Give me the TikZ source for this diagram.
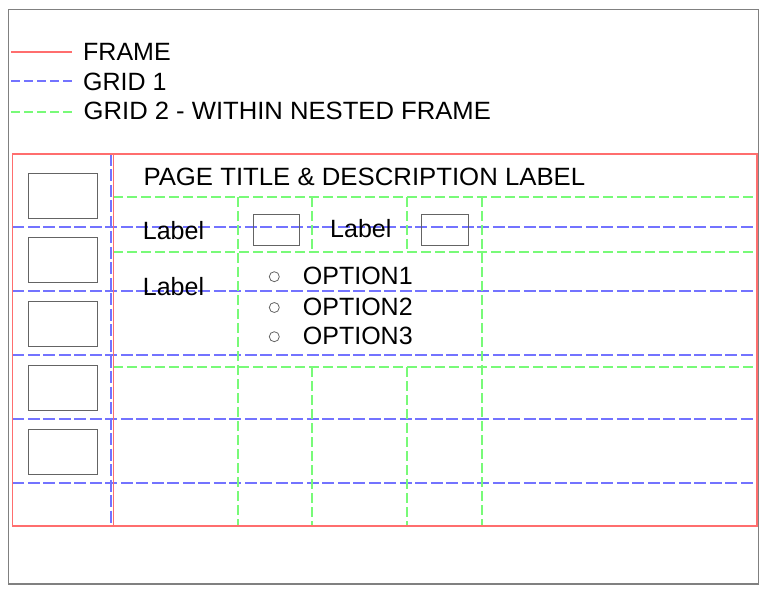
\documentclass[tikz,border=0pt]{standalone}
\usepackage{fontspec}
\setmainfont{Liberation Sans}
\definecolor{framered}{RGB}{255,110,110}
\definecolor{gridblue}{RGB}{115,115,255}
\definecolor{gridgreen}{RGB}{120,250,120}
\definecolor{boxgray}{RGB}{100,100,100}
\definecolor{pagegray}{RGB}{128,128,128}
\tikzset{
  frameline/.style={draw=framered, line width=1.4pt},
  gridone/.style={draw=gridblue, line width=1.5pt, dash pattern=on 12pt off 3.5pt},
  gridtwo/.style={draw=gridgreen, line width=1.6pt, dash pattern=on 10pt off 4pt},
  widget/.style={draw=boxgray, line width=1pt},
  txt/.style={anchor=base west, inner sep=0pt, font=\fontsize{25}{30}\selectfont, text=black},
  radio/.style={draw=boxgray, line width=0.8pt}
}
\begin{document}
\begin{tikzpicture}[x=1pt,y=-1pt]
\useasboundingbox (0,0) rectangle (768,593);
% page
\draw[draw=pagegray, line width=1.3pt] (8.7,9.3) rectangle (758.5,584);
% legend
\coordinate (l1a) at (11,52); \coordinate (l1b) at (72,52);
\coordinate (l2a) at (11,81); \coordinate (l2b) at (72,81);
\coordinate (l3a) at (11,112); \coordinate (l3b) at (72,112);
\draw[frameline] (l1a) -- (l1b);
\draw[draw=gridblue, line width=1.5pt, dash pattern=on 9pt off 4pt] (l2a) -- (l2b);
\draw[draw=gridgreen, line width=1.6pt, dash pattern=on 9pt off 4pt] (l3a) -- (l3b);
\node[txt] (lg1) at (83,61) {FRAME};
\node[txt] (lg2) at (83,90.7) {GRID 1};
\node[txt] (lg3) at (83.5,120) {\scalebox{1.025}[1]{GRID 2 - WITHIN NESTED FRAME}};
% grid 1 (blue)
\foreach \y in {227,291,355,419,483}
  \draw[gridone] (12.3,\y) -- (757,\y);
\draw[gridone] (111,154) -- (111,526);
% grid 2 (green)
\foreach \y in {197,252,367}
  \draw[gridtwo] (113.3,\y) -- (757,\y);
\draw[gridtwo] (238,197) -- (238,526);
\draw[gridtwo] (482,197) -- (482,526);
\draw[gridtwo] (312,197) -- (312,252);
\draw[gridtwo] (407,197) -- (407,252);
\draw[gridtwo] (312,367) -- (312,526);
\draw[gridtwo] (407,367) -- (407,526);
% frames (red)
\draw[frameline] (12.3,154) rectangle (757,526);
\draw[frameline] (113.5,154) -- (113.5,526);
% left column boxes
\foreach \y/\n in {172.7/1,236.7/2,300.7/3,364.7/4,428.7/5}
  \node[widget, anchor=north west, minimum width=69.6pt, minimum height=45.6pt, inner sep=0pt] (nav\n) at (27.7,\y) {};
% row boxes
\node[widget, anchor=north west, minimum width=46pt, minimum height=30.7pt, inner sep=0pt] (fieldA) at (252.7,214) {};
\node[widget, anchor=north west, minimum width=46.4pt, minimum height=30.7pt, inner sep=0pt] (fieldB) at (421.3,214) {};
% texts
\node[txt] (title) at (143.3,186) {\scalebox{1.03}[1]{PAGE TITLE \& DESCRIPTION LABEL}};
\node[txt] (lab1) at (142.7,240) {Label};
\node[txt] (lab2) at (142.7,296) {Label};
\node[txt] (lab3) at (330,237.3) {Label};
\node[txt] (opt1) at (302.7,285) {OPTION1};
\node[txt] (opt2) at (302.7,315.5) {OPTION2};
\node[txt] (opt3) at (302.7,344.5) {OPTION3};
\node[radio, circle, minimum size=10pt, inner sep=0pt] (r1) at (274.3,276.7) {};
\node[radio, circle, minimum size=10pt, inner sep=0pt] (r2) at (274.3,307.5) {};
\node[radio, circle, minimum size=10pt, inner sep=0pt] (r3) at (274.3,336.7) {};
\end{tikzpicture}
\end{document}
